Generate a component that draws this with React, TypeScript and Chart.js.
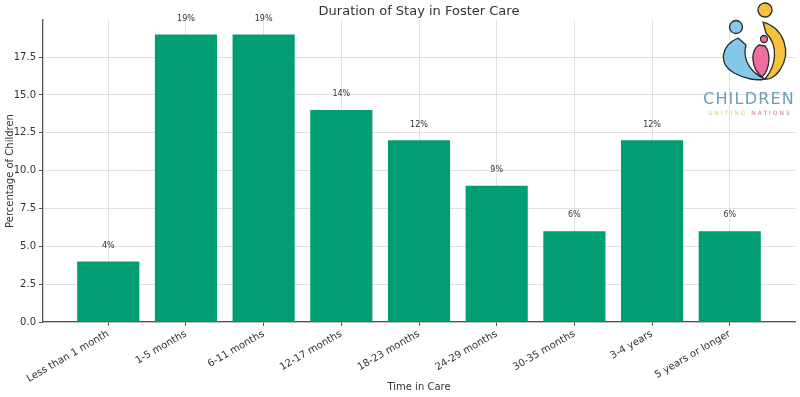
import React, { useEffect, useRef } from "react";
import { Chart, registerables } from "chart.js";

Chart.register(...registerables);

const categories = [
  "Less than 1 month",
  "1-5 months",
  "6-11 months",
  "12-17 months",
  "18-23 months",
  "24-29 months",
  "30-35 months",
  "3-4 years",
  "5 years or longer",
];
const percentages = [4, 19, 19, 14, 12, 9, 6, 12, 6];
const yTicks = [0, 2.5, 5, 7.5, 10, 12.5, 15, 17.5];

const chartTitle = "Duration of Stay in Foster Care";
const xTitle = "Time in Care";
const yTitle = "Percentage of Children";

const FONT = "'DejaVu Sans', sans-serif";
const TEXT = "#333333";
const BAR = "#029e73";
const GRID = "rgba(190,190,190,0.45)";
const AXIS = "#555555";

const labelsPlugin = {
  id: "labelsAndTitle",
  afterDraw(chart: any) {
    const ctx = chart.ctx;
    const ys = chart.scales.y;
    const meta = chart.getDatasetMeta(0);
    ctx.save();
    ctx.fillStyle = TEXT;
    ctx.font = `8px ${FONT}`;
    ctx.textAlign = "center";
    ctx.textBaseline = "middle";
    meta.data.forEach((bar: any, i: number) => {
      const v = percentages[i];
      ctx.fillText(`${v}%`, bar.x, ys.getPixelForValue(v + 1.05));
    });
    const ca = chart.chartArea;
    ctx.font = `13px ${FONT}`;
    ctx.fillText(chartTitle, (ca.left + ca.right) / 2, 12);
    ctx.restore();
  },
};

function Logo() {
  return (
    <svg
      width={800}
      height={397}
      style={{ position: "absolute", left: 0, top: 0, pointerEvents: "none" }}
    >
      <g stroke="#2a2a2a" strokeWidth={1.3} strokeLinejoin="round">
        <path
          d="M 763 22 C 784 28, 792 52, 780 70 C 775 77, 769 80, 765 79 C 776 66, 779 46, 766 33 Z"
          fill="#f6c13c"
        />
        <path
          d="M 738 38 C 722 45, 717 63, 734 73 C 745 79, 757 81, 765 79 C 751 73, 742 60, 746 45 Z"
          fill="#86c8ea"
        />
        <path
          d="M 759 45 C 750 51, 751 68, 762 77 C 770 70, 771 53, 765 46 Z"
          fill="#ee6ea2"
        />
        <circle cx={736} cy={27} r={6.5} fill="#86c8ea" />
        <circle cx={765} cy={10} r={7} fill="#f6c13c" />
        <circle cx={764} cy={39} r={3.5} fill="#ee6ea2" />
      </g>
      <text
        x={749}
        y={104}
        textAnchor="middle"
        fontFamily="'DejaVu Sans', sans-serif"
        fontSize={16}
        letterSpacing={1.2}
        fill="#6b9fb6"
      >
        CHILDREN
      </text>
      <text
        x={750}
        y={115}
        textAnchor="middle"
        fontFamily="'DejaVu Sans', sans-serif"
        fontSize={6}
        letterSpacing={2}
      >
        <tspan fill="#e6c86a">UNITING </tspan>
        <tspan fill="#c07aa8">NATIONS</tspan>
      </text>
    </svg>
  );
}

export default function App() {
  const ref = useRef<HTMLCanvasElement | null>(null);

  useEffect(() => {
    if (!ref.current) return;
    const chart = new Chart(ref.current, {
      type: "bar",
      data: {
        datasets: [
          {
            label: "Percentage",
            data: percentages.map((v, i) => ({ x: i, y: v })),
            backgroundColor: BAR,
            borderWidth: 0,
            categoryPercentage: 1,
            barPercentage: 0.8,
          },
        ],
      },
      options: {
        animation: false,
        responsive: true,
        maintainAspectRatio: false,
        layout: { padding: { top: 20, right: 5, left: 0, bottom: 0 } },
        plugins: {
          legend: { display: false },
          tooltip: { enabled: false },
          title: { display: false },
        },
        scales: {
          x: {
            type: "linear",
            min: -0.84,
            max: 8.84,
            offset: false,
            z: 1,
            afterBuildTicks: (s: any) => {
              s.ticks = categories.map((_, i) => ({ value: i }));
            },
            afterFit: (s: any) => {
              s.height = 75;
            },
            ticks: {
              autoSkip: false,
              maxRotation: 30,
              minRotation: 30,
              color: TEXT,
              font: { family: FONT, size: 10 },
              padding: 2,
              callback: (v: any) => categories[Math.round(Number(v))] ?? "",
            },
            grid: {
              offset: false,
              color: GRID,
              lineWidth: 1,
              drawTicks: true,
              tickLength: 4,
              tickColor: AXIS,
            },
            border: { display: true, color: AXIS, width: 1.3 },
            title: {
              display: true,
              text: xTitle,
              color: TEXT,
              font: { family: FONT, size: 10 },
            },
          },
          y: {
            type: "linear",
            min: 0,
            max: 19.95,
            z: 1,
            afterBuildTicks: (s: any) => {
              s.ticks = yTicks.map((v) => ({ value: v }));
            },
            afterFit: (s: any) => {
              s.width = 43;
            },
            ticks: {
              color: TEXT,
              font: { family: FONT, size: 10 },
              padding: 3,
              callback: (v: any) => Number(v).toFixed(1),
            },
            grid: {
              color: GRID,
              lineWidth: 1,
              drawTicks: true,
              tickLength: 4,
              tickColor: AXIS,
            },
            border: { display: true, color: AXIS, width: 1.3 },
            title: {
              display: true,
              text: yTitle,
              color: TEXT,
              font: { family: FONT, size: 10 },
            },
          },
        },
      },
      plugins: [labelsPlugin],
    } as any);
    return () => chart.destroy();
  }, []);

  return (
    <div
      style={{
        position: "absolute",
        left: 0,
        top: 0,
        width: 800,
        height: 397,
        background: "#ffffff",
      }}
    >
      <canvas ref={ref} />
      <Logo />
    </div>
  );
}
